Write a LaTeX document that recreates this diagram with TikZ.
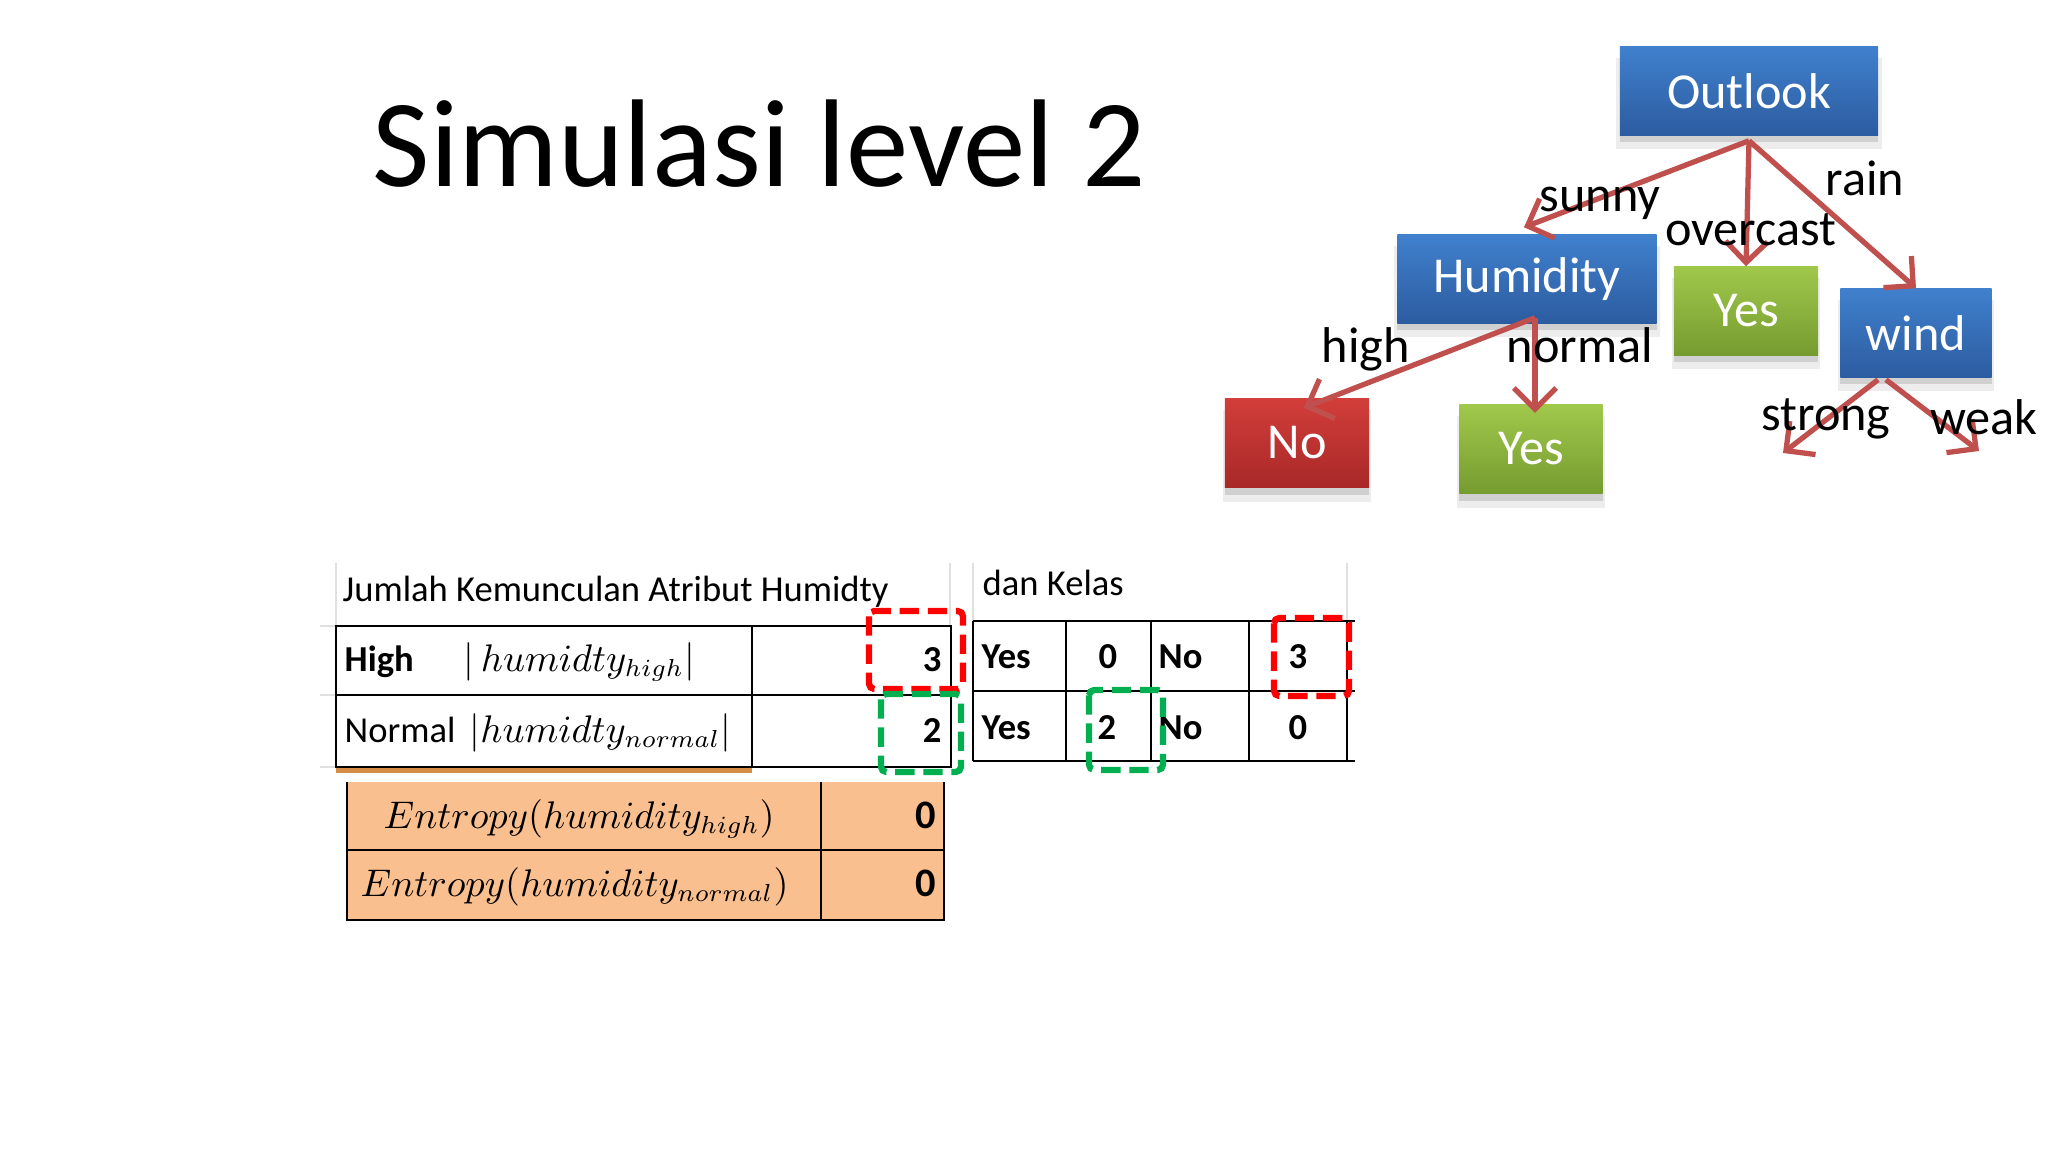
\documentclass[tikz,border=0pt]{standalone}
\usepackage{fontspec}
\setmainfont{Carlito}
\usetikzlibrary{arrows.meta,shadows,calc}
\definecolor{arrowred}{RGB}{192,80,77}
\definecolor{blA}{RGB}{64,128,205}
\definecolor{blB}{RGB}{44,92,160}
\definecolor{grA}{RGB}{160,200,75}
\definecolor{grB}{RGB}{118,155,48}
\definecolor{rdA}{RGB}{210,62,58}
\definecolor{rdB}{RGB}{168,40,40}
\definecolor{orfill}{RGB}{250,191,143}
\definecolor{orline}{RGB}{215,140,70}
\definecolor{dgreen}{RGB}{0,176,80}
\newcommand{\treefont}{\fontsize{14.3pt}{17pt}\selectfont}
\newcommand{\tabfont}{\fontsize{10.4pt}{12.5pt}\selectfont}
\newcommand{\mathfontsz}{\fontsize{10.7pt}{13pt}\selectfont}
\newcommand{\titlefont}{\fontsize{35.5pt}{42pt}\selectfont}
\begin{document}
\begin{tikzpicture}[x=0.01cm,y=-0.01cm,
  box/.style={rectangle, inner sep=0pt, text=white, font=\treefont,
    general shadow={shadow xshift=0pt, shadow yshift=-3.5pt, shadow scale=1.03, fill=black, opacity=0.07},
    drop shadow={shadow xshift=0pt, shadow yshift=-2pt, fill=black, opacity=0.12}},
  bluebox/.style={box, top color=blA, bottom color=blB},
  greenbox/.style={box, top color=grA, bottom color=grB},
  redbox/.style={box, top color=rdA, bottom color=rdB},
  conn/.style={draw=arrowred, line width=1.5pt, -{Straight Barb[length=6pt,width=12pt]}},
  lbl/.style={font=\treefont, inner sep=0pt, anchor=base},
  tline/.style={line width=0.8pt, black},
  faint/.style={line width=0.5pt, black!12},
  tcell/.style={font=\tabfont, inner sep=0pt, anchor=base west},
  tnum/.style={font=\tabfont\bfseries, inner sep=0pt, anchor=base},
  reddash/.style={draw=red, line width=1.8pt, dash pattern=on 5.5pt off 2.5pt, rounded corners=1.5pt},
  greendash/.style={draw=dgreen, line width=1.8pt, dash pattern=on 5.5pt off 2.5pt, rounded corners=1.5pt}
]
\useasboundingbox (0,0) rectangle (2048,1152);
\fill[white] (0,0) rectangle (2048,1152);

% title
\node[anchor=base west, font=\titlefont, inner sep=0pt] (title) at (372,187) {Simulasi level 2};

% tree boxes
\node[bluebox, minimum width=2.58cm, minimum height=0.88cm] (outlook) at (1749,91) {Outlook};
\node[bluebox, minimum width=2.59cm, minimum height=0.88cm] (humidity) at (1527,279) {Humidity};
\node[greenbox, minimum width=1.44cm, minimum height=0.88cm] (yesA) at (1746,311) {Yes};
\node[bluebox, minimum width=1.51cm, minimum height=0.88cm] (wind) at (1916,333) {wind};
\node[redbox, minimum width=1.44cm, minimum height=0.89cm] (no) at (1297,443) {No};
\node[greenbox, minimum width=1.43cm, minimum height=0.89cm] (yesB) at (1531,449) {Yes};

% connectors
\coordinate (os) at ([yshift=-0.05cm]outlook.south);
\draw[conn] (os) -- ([shift={(-3,-7)}]humidity.north);
\draw[conn] (os) -- (yesA.north);
\draw[conn] (os) -- (wind.north);
\coordinate (hs) at ([shift={(8,-6)}]humidity.south);
\draw[conn] (hs) -- ([shift={(7,10)}]no.north);
\draw[conn] (hs) -- ([shift={(4,9)}]yesB.north);
\coordinate (ws) at ([shift={(-38,2)}]wind.south);
\coordinate (strongend) at (1783,453);
\coordinate (weakend) at (1979,451);
\draw[conn] (ws) -- (strongend);
\draw[conn] ([xshift=0.08cm]ws) -- (weakend);

% edge labels
\node[lbl] (lsunny) at (1600,212) {sunny};
\node[lbl] (lover) at (1751,246) {overcast};
\node[lbl] (lrain) at (1865,196) {rain};
\node[lbl] (lhigh) at (1366,363) {high};
\node[lbl] (lnormal) at (1580,363) {normal};
\node[lbl] (lstrong) at (1826,431) {strong};
\node[lbl] (lweak) at (1984,435) {weak};

% faint sheet grid
\draw[faint] (336,563) -- (336,626);
\draw[faint] (950,563) -- (950,626);
\draw[faint] (973,563) -- (973,621);
\draw[faint] (1347,563) -- (1347,621);
\draw[faint] (320,626) -- (336,626);
\draw[faint] (320,695) -- (336,695);
\draw[faint] (320,767) -- (336,767);

% headers
\node[tcell] (hdrA) at (342,602) {Jumlah Kemunculan Atribut Humidty};
\node[tcell] (hdrB) at (982,596) {dan Kelas};

% left table
\draw[tline] (336,626) rectangle (951,767);
\draw[tline] (336,695) -- (951,695);
\draw[tline] (752,626) -- (752,767);
\draw[orline, line width=1.2pt] (336,770.5) -- (752,770.5);
\node[tcell, font=\tabfont\bfseries] (chigh) at (344,671) {High};
\node[tcell] (cnormal) at (344,742) {Normal};
\node[anchor=base west, inner sep=0pt, font=\mathfontsz] (mhigh) at (463,671) {$|\,humidty_{high}|$};
\node[anchor=base west, inner sep=0pt, font=\mathfontsz] (mnormal) at (469,742) {$|humidty_{normal}|$};
\node[tnum, anchor=base east] (vthree) at (942,671) {3};
\node[tnum, anchor=base east] (vtwo) at (942,742) {2};

% orange entropy table
\fill[orfill] (347,782) rectangle (944,920);
\draw[tline] (347,782) -- (347,920) -- (944,920) -- (944,782);
\draw[tline] (347,850) -- (944,850);
\draw[tline] (821,782) -- (821,920);
\node[anchor=base west, inner sep=0pt, font=\mathfontsz] (ehigh) at (383,828) {$Entropy(humidity_{high})$};
\node[anchor=base west, inner sep=0pt, font=\mathfontsz] (enormal) at (360,896) {$Entropy(humidity_{normal})$};
\node[tnum, anchor=base east, font=\fontsize{11.5pt}{14pt}\selectfont\bfseries] (ezeroA) at (937,828) {0};
\node[tnum, anchor=base east, font=\fontsize{11.5pt}{14pt}\selectfont\bfseries] (ezeroB) at (937,896) {0};

% right table
\foreach \yy in {621,691,761} \draw[tline] (973,\yy) -- (1355,\yy);
\foreach \xx in {973,1066,1151,1249,1347} \draw[tline] (\xx,621) -- (\xx,761);
\node[tcell, font=\tabfont\bfseries] (ryesA) at (981,669) {Yes};
\node[tcell, font=\tabfont\bfseries] (ryesB) at (981,739) {Yes};
\node[tcell, font=\tabfont\bfseries] (rnoA) at (1158,669) {No};
\node[tcell, font=\tabfont\bfseries] (rnoB) at (1158,739) {No};
\node[tnum] (rzeroA) at (1108,669) {0};
\node[tnum] (rtwo) at (1107,739) {2};
\node[tnum] (rthree) at (1298,669) {3};
\node[tnum] (rzeroB) at (1298,739) {0};

% dashed highlight boxes
\draw[reddash] (869,611) rectangle (963,689);
\draw[greendash] (881,694) rectangle (961,772);
\draw[reddash] (1274,618) rectangle (1349,696);
\draw[greendash] (1089,690) rectangle (1163,770);
\end{tikzpicture}
\end{document}
